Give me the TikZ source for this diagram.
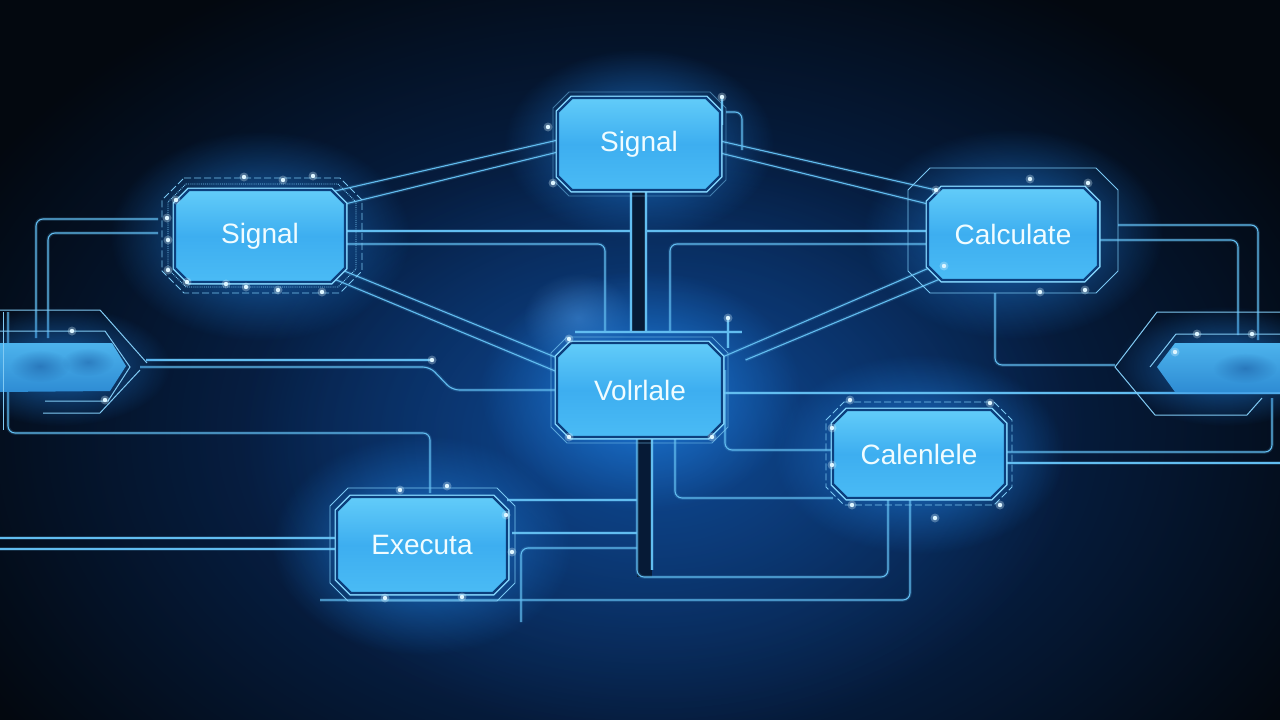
\documentclass[tikz,border=0pt]{standalone}
\usepackage{fontspec}
\setmainfont{Liberation Sans}
\usetikzlibrary{calc,fadings}
\definecolor{bgc}{HTML}{03080F}
\definecolor{deep}{HTML}{0A3576}
\definecolor{wirec}{HTML}{62BDF0}
\definecolor{glowc}{HTML}{1E7FE0}
\definecolor{boxtop}{HTML}{62CCF9}
\definecolor{boxmid}{HTML}{3DAEF0}
\definecolor{boxbot}{HTML}{4ABBF5}
\definecolor{rimc}{HTML}{0C3F7D}
\definecolor{edgec}{HTML}{86D8FF}
\definecolor{txtc}{HTML}{F0FCFF}
\definecolor{dotc}{HTML}{DDF5FF}
\definecolor{stemc}{HTML}{061A36}
\definecolor{hexa}{HTML}{4DB3EC}
\definecolor{hexb}{HTML}{2E8CD4}
\definecolor{cloudc}{HTML}{1C5FA5}
\tikzfading[name=softfade, inner color=transparent!0, outer color=transparent!100]
\pgfdeclarelayer{background}
\pgfsetlayers{background,main}
\newcommand{\chbox}[6]{\path[#6] (#1+#5,#2) -- (#3-#5,#2) -- (#3,#2+#5) -- (#3,#4-#5) -- (#3-#5,#4) -- (#1+#5,#4) -- (#1,#4-#5) -- (#1,#2+#5) -- cycle;}
\begin{document}
\begin{tikzpicture}[x=1pt,y=-1pt,
  wire/.style={draw=wirec, line width=1.1pt, rounded corners=7pt, preaction={draw=wirec, line width=3.5pt, opacity=.18}},
  boxst/.style={top color=boxtop, bottom color=boxbot, middle color=boxmid, draw=rimc, line width=2.4pt, preaction={draw=edgec, line width=5pt}},
  halo/.style={draw=wirec!85, line width=.9pt},
  halod/.style={halo, dash pattern=on 7pt off 3pt},
  lbl/.style={rectangle, inner sep=0pt, outer sep=0pt, text=txtc, font=\fontsize{28}{31}\selectfont},
  hexline/.style={draw=wirec!80, line width=1pt},
  glow/.style={glowc, path fading=softfade, fit fading=true}]
\useasboundingbox (0,0) rectangle (1280,720);
\clip (0,0) rectangle (1280,720);

% labels (nodes)
\node[lbl, minimum width=162, minimum height=92] (sigT) at (639,144) {Signal};
\node[lbl, minimum width=170, minimum height=92] (sigL) at (260,236) {Signal};
\node[lbl, minimum width=170, minimum height=92] (calc) at (1013,234) {Calculate};
\node[lbl, minimum width=165, minimum height=94] (vol) at (640,390) {Volrlale};
\node[lbl, minimum width=172, minimum height=88] (cale) at (919,454) {Calenlele};
\node[lbl, minimum width=170, minimum height=96] (exec) at (422,545) {Executa};

\begin{pgfonlayer}{background}
% background
\fill[bgc] (0,0) rectangle (1280,720);
\fill[deep, path fading=softfade, fit fading=true] (640,430) ellipse [x radius=760, y radius=520];
\fill[deep!60!glowc, path fading=softfade, fit fading=true, opacity=.65] (660,440) ellipse [x radius=420, y radius=300];
\fill[glowc!70!white, path fading=softfade, fit fading=true, opacity=.45] (578,318) ellipse [x radius=55, y radius=45];

% node glows
\foreach \cx/\cy/\rx/\ry/\op in {639/144/135/95/.8, 260/236/150/105/.8, 1013/234/150/105/.8, 640/390/160/120/.95, 919/454/145/100/.85, 422/545/150/110/.85}
  \fill[glow, opacity=\op] (\cx,\cy) ellipse [x radius=\rx, y radius=\ry];

% stems
\fill[stemc] (631,190) rectangle (646,332);
\fill[stemc] (637,437) rectangle (652,577);

% wires
\draw[wire] (sigT.west|-0,140) -- ($(sigL.north east)+(-10,1)$);
\draw[wire] (sigT.west|-0,152) -- (sigL.east|-0,204);
\draw[wire] (sigT.east|-0,141) -- ($(calc.north west)+(8,2)$);
\draw[wire] (sigT.east|-0,153) -- (calc.west|-0,204);
\draw[wire] ($(sigT.south)+(-8,0)$) -- ($(sigT.south)+(-8,142)$);
\draw[wire] ($(sigT.south)+(7,0)$) -- ($(sigT.south)+(7,142)$);
\draw[wire] (sigL.east|-0,231) -- ($(sigT.south)+(-8,41)$);
\draw[wire] (sigL.east|-0,244) -- (605,244) -- (605,332);
\draw[wire] ($(sigT.south)+(7,41)$) -- (calc.west|-0,231);
\draw[wire] (670,332) -- (670,244) -- (calc.west|-0,244);
\draw[wire] (575,332) -- (742,332);
\draw[wire] (728,318) -- (728,348);
\draw[wire] ($(sigL.south east)+(-8,-14)$) -- (vol.west|-0,358);
\draw[wire] ($(sigL.south east)+(-11,-3)$) -- (vol.west|-0,372);
\draw[wire] (vol.east|-0,357) -- ($(calc.south west)+(8,-15)$);
\draw[wire] ($(vol.east)+(23,-30)$) -- ($(calc.south west)+(12,-1)$);
\draw[wire] (146,360) -- (432,360);
\draw[wire] (140,367) -- (430,367) -- (452,390) -- (vol.west);
\draw[wire] (8,312) -- (8,433) -- (430,433) -- (430,493);
\draw[wire] ($(sigL.west)+(-17,-17)$) -- (36,219) -- (36,338);
\draw[wire] ($(sigL.west)+(-17,-3)$) -- (48,233) -- (48,338);
\draw[wire] (0,538) -- (exec.west|-0,538);
\draw[wire] (0,549) -- (exec.west|-0,549);
\draw[wire] (exec.east|-0,500) -- (637,500);
\draw[wire] ($(exec.east)+(5,-12)$) -- (637,533);
\draw[wire] (521,622) -- (521,548) -- (637,548);
\draw[wire] (637,437) -- (637,577) -- (888,577) -- (888,500);
\draw[wire] (652,437) -- (652,570);
\draw[wire] (675,437) -- (675,498) -- (cale.south west);
\draw[wire] (320,600) -- (910,600) -- (910,500);
\draw[wire] (vol.east|-0,393) -- (1280,393);
\draw[wire] (725,370) -- (725,450) -- (cale.west|-0,450);
\draw[wire] (cale.east|-0,452) -- (1272,452) -- (1272,398);
\draw[wire] (cale.east|-0,463) -- (1280,463);
\draw[wire] (995,293) -- (995,365) -- (1115,365);
\draw[wire] (1118,225) -- (1258,225) -- (1258,340);
\draw[wire] (calc.east|-0,240) -- (1238,240) -- (1238,335);
\draw[wire] (722,97) -- (722,125);
\draw[wire] (726,112) -- (742,112) -- (742,150);

% left hex
\fill[glow, opacity=.7] (60,366) ellipse [x radius=110, y radius=60];
\path[top color=hexa, bottom color=hexb] (0,343) -- (112,343) -- (126,366) -- (110,391) -- (0,392) -- cycle;
\fill[cloudc, opacity=.6, path fading=softfade, fit fading=true] (40,366) ellipse [x radius=30, y radius=16];
\fill[cloudc, opacity=.55, path fading=softfade, fit fading=true] (88,362) ellipse [x radius=26, y radius=14];
\draw[hexline] (0,310) -- (100,310) -- (147,363);
\draw[hexline] (140,370) -- (100,413) -- (43,413);
\draw[hexline] (0,331) -- (105,331) -- (130,367) -- (108,401) -- (45,401);
\draw[hexline] (3,312) -- (3,430);

% right hex
\fill[glow, opacity=.7] (1225,366) ellipse [x radius=110, y radius=60];
\path[top color=hexa, bottom color=hexb] (1280,343) -- (1175,343) -- (1157,367) -- (1175,392) -- (1280,392) -- cycle;
\fill[cloudc, opacity=.6, path fading=softfade, fit fading=true] (1245,368) ellipse [x radius=32, y radius=15];
\draw[hexline] (1280,312) -- (1157,312) -- (1115,367) -- (1155,415) -- (1247,415) -- (1262,398);
\draw[hexline] (1280,334) -- (1176,334) -- (1150,367);

% halos
\chbox{162}{178}{362}{293}{22}{halod}
\chbox{168}{184}{356}{287}{18}{halo, densely dotted}
\chbox{908}{168}{1118}{293}{22}{halo}
\chbox{553}{92}{726}{196}{16}{halo, opacity=.5}
\chbox{551}{337}{728}{443}{16}{halo, opacity=.7}
\chbox{826}{402}{1012}{505}{18}{halod}
\chbox{330}{488}{515}{601}{18}{halo}

% boxes
\chbox{558}{98}{720}{190}{14}{boxst}
\chbox{175}{190}{345}{282}{14}{boxst}
\chbox{928}{188}{1098}{280}{14}{boxst}
\chbox{557}{343}{722}{437}{14}{boxst}
\chbox{833}{410}{1005}{498}{14}{boxst}
\chbox{337}{497}{507}{593}{14}{boxst}

% dots
\foreach \x/\y in {548/127, 553/183, 722/97, 244/177, 283/180, 313/176, 176/200, 167/218, 168/240, 168/270, 187/282, 226/284, 246/287, 278/290, 322/292, 1030/179, 1088/183, 936/190, 944/266, 1040/292, 1085/290, 569/339, 728/318, 569/437, 712/437, 432/360, 850/400, 990/403, 832/428, 832/465, 852/505, 1000/505, 935/518, 447/486, 400/490, 506/515, 512/552, 385/598, 462/597, 72/331, 105/400, 1197/334, 1252/334, 1175/352}
{ \fill[dotc, opacity=.3] (\x,\y) circle (4.5); \fill[dotc] (\x,\y) circle (2.2); }
\end{pgfonlayer}
\end{tikzpicture}
\end{document}
